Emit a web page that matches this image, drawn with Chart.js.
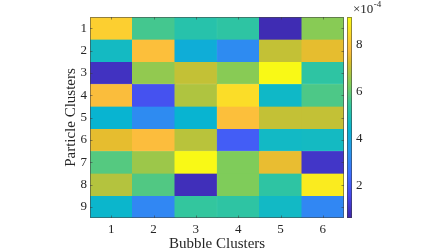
<!DOCTYPE html>
<html>
<head>
<meta charset="utf-8">
<script src="https://cdn.jsdelivr.net/npm/chart.js@4/dist/chart.umd.min.js"></script>
<style>
  html, body { margin: 0; padding: 0; background: #fff; }
  #wrap { position: relative; width: 448px; height: 252px; }
  #heat { position: absolute; left: 0; top: 0; }
  #cbar { position: absolute; left: 340px; top: 0; }
</style>
</head>
<body>
<div id="wrap">
  <canvas id="heat" width="448" height="252"></canvas>
  <canvas id="cbar" width="108" height="252"></canvas>
</div>
<script>
// heatmap values (x 1e-4), one row per particle cluster
var colLabels = ['1', '2', '3', '4', '5', '6'];
var rowLabels = [1, 2, 3, 4, 5, 6, 7, 8, 9];
var cellValues = [
  [8.2, 5.6, 5.15, 5.3, 0.8, 6.4],
  [4.7, 7.8, 4.2, 3.2, 7.0, 7.4],
  [1.0, 6.5, 7.0, 6.4, 9.1, 5.3],
  [7.7, 1.85, 6.8, 8.5, 4.6, 5.7],
  [4.4, 3.2, 4.4, 7.8, 7.0, 7.0],
  [7.4, 7.75, 6.9, 2.1, 4.65, 4.7],
  [5.8, 6.6, 9.1, 6.3, 7.45, 1.1],
  [6.85, 5.75, 0.9, 6.3, 5.3, 8.8],
  [4.5, 3.1, 5.4, 5.3, 4.65, 3.1]
];
var cMin = 0.65;
var cMax = 9.15;
var cbarTicks = [2, 4, 6, 8];

// parula, [t, r, g, b]
var parula = [
  [0.000, 0.2422, 0.1504, 0.6603],
  [0.111, 0.2803, 0.2782, 0.9221],
  [0.222, 0.2440, 0.4358, 0.9988],
  [0.333, 0.1540, 0.5902, 0.9218],
  [0.444, 0.0297, 0.7082, 0.8163],
  [0.556, 0.1938, 0.7758, 0.6251],
  [0.667, 0.5044, 0.7993, 0.3480],
  [0.778, 0.8634, 0.7406, 0.1596],
  [0.833, 0.9900, 0.7400, 0.2400],
  [0.889, 0.9892, 0.8136, 0.1885],
  [1.000, 0.9769, 0.9839, 0.0805]
];

function parulaColor(t) {
  t = Math.max(0, Math.min(1, t));
  var i = 0;
  while (i < parula.length - 2 && t > parula[i + 1][0]) i++;
  var a = parula[i], b = parula[i + 1];
  var f = (t - a[0]) / (b[0] - a[0]);
  var c = [1, 2, 3].map(function (k) {
    return Math.round(255 * (a[k] + (b[k] - a[k]) * f));
  });
  return 'rgb(' + c[0] + ',' + c[1] + ',' + c[2] + ')';
}

function valueColor(v) {
  return parulaColor((v - cMin) / (cMax - cMin));
}

var serif = "'Liberation Serif', 'Times New Roman', serif";

// draws box + small inward ticks like matlab
var boxPlugin = {
  id: 'box',
  afterDatasetsDraw: function (chart) {
    var ctx = chart.ctx, a = chart.chartArea;
    ctx.save();
    ctx.strokeStyle = 'rgba(60,60,60,0.55)';
    ctx.lineWidth = 1;
    ctx.strokeRect(a.left + 0.5, a.top + 0.5, a.right - a.left - 1, a.bottom - a.top - 1);
    if (chart.canvas.id === 'heat') {
      var xs = chart.scales.x, ys = chart.scales.y;
      ctx.beginPath();
      colLabels.forEach(function (l, i) {
        var px = Math.round(xs.getPixelForValue(i)) + 0.5;
        ctx.moveTo(px, a.top); ctx.lineTo(px, a.top + 2.5);
        ctx.moveTo(px, a.bottom); ctx.lineTo(px, a.bottom - 2.5);
      });
      rowLabels.forEach(function (r) {
        var py = Math.round(ys.getPixelForValue(r)) + 0.5;
        ctx.moveTo(a.left, py); ctx.lineTo(a.left + 2.5, py);
        ctx.moveTo(a.right, py); ctx.lineTo(a.right - 2.5, py);
      });
      ctx.stroke();
    }
    ctx.restore();
  }
};

var heatDatasets = rowLabels.map(function (r, ri) {
  return {
    data: colLabels.map(function () { return [r - 0.5, r + 0.5]; }),
    backgroundColor: cellValues[ri].map(valueColor),
    borderColor: cellValues[ri].map(valueColor),
    borderWidth: 0.5,
    borderSkipped: false,
    barPercentage: 1,
    categoryPercentage: 1,
    grouped: false
  };
});

var heatChart = new Chart(document.getElementById('heat'), {
  type: 'bar',
  data: { labels: colLabels, datasets: heatDatasets },
  options: {
    responsive: false,
    animation: false,
    layout: { padding: { left: 62, right: 104, top: 17, bottom: 0 } },
    plugins: { legend: { display: false }, tooltip: { enabled: false } },
    scales: {
      x: {
        grid: { display: false, drawTicks: false },
        border: { display: false },
        ticks: { color: '#262626', padding: 4, font: { family: serif, size: 13 } },
        title: { display: true, text: 'Bubble Clusters', color: '#262626', padding: 0,
                 font: { family: serif, size: 15, lineHeight: 1 } },
        afterFit: function (s) { s.height = 34; }
      },
      y: {
        reverse: true,
        min: 0.5,
        max: 9.5,
        grid: { display: false, drawTicks: false },
        border: { display: false },
        afterBuildTicks: function (s) {
          s.ticks = rowLabels.map(function (v) { return { value: v }; });
        },
        ticks: { color: '#262626', padding: 3, font: { family: serif, size: 13 } },
        title: { display: true, text: 'Particle Clusters', color: '#262626', padding: 0,
                 font: { family: serif, size: 15, lineHeight: 1.2 } },
        afterFit: function (s) { s.width = 28; }
      }
    }
  },
  plugins: [boxPlugin]
});

// colorbar
var expPlugin = {
  id: 'exponent',
  afterDraw: function (chart) {
    var ctx = chart.ctx;
    ctx.save();
    ctx.fillStyle = '#262626';
    ctx.textBaseline = 'alphabetic';
    ctx.font = '13px ' + serif;
    ctx.fillText('\u00d710', 13, 13);
    var w = ctx.measureText('\u00d710').width;
    ctx.font = '9px ' + serif;
    ctx.fillText('-4', 13 + w + 0.5, 7);
    ctx.restore();
  }
};

var cbarChart = new Chart(document.getElementById('cbar'), {
  type: 'bar',
  data: {
    labels: ['c'],
    datasets: [{
      data: [[cMin, cMax]],
      backgroundColor: function (context) {
        var area = context.chart.chartArea;
        if (!area) return parulaColor(0.5);
        var g = context.chart.ctx.createLinearGradient(0, area.bottom, 0, area.top);
        parula.forEach(function (c) {
          g.addColorStop(c[0], parulaColor(c[0]));
        });
        return g;
      },
      borderWidth: 0,
      barPercentage: 1,
      categoryPercentage: 1
    }]
  },
  options: {
    responsive: false,
    animation: false,
    layout: { padding: { left: 7, right: 0, top: 17, bottom: 34 } },
    plugins: { legend: { display: false }, tooltip: { enabled: false } },
    scales: {
      x: { display: false },
      y: {
        position: 'right',
        min: cMin,
        max: cMax,
        grid: { display: false, drawTicks: false },
        border: { display: false },
        afterBuildTicks: function (s) {
          s.ticks = cbarTicks.map(function (v) { return { value: v }; });
        },
        ticks: { color: '#262626', padding: 4, font: { family: serif, size: 13 } },
        afterFit: function (s) { s.width = 96; }
      }
    }
  },
  plugins: [boxPlugin, expPlugin]
});
</script>
</body>
</html>
